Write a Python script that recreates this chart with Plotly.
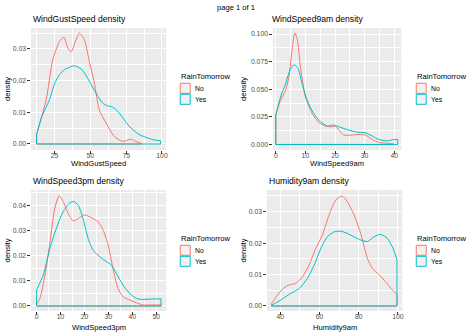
import plotly.graph_objects as go

# ---------------- data ----------------
groups = ["No", "Yes"]
variables = ["WindGustSpeed", "WindSpeed9am", "WindSpeed3pm", "Humidity9am"]

wgs_no_x = [12.5, 19.2, 23.8, 28.5, 31.5, 34.3, 36.6, 39.6, 42.4, 45.8, 49.3, 52.8, 56.2, 61, 66.7, 72.5, 78.2, 81.7, 86]
wgs_no_y = [0.003, 0.014, 0.0266, 0.0324, 0.0337, 0.0303, 0.029, 0.0324, 0.035, 0.033, 0.026, 0.0193, 0.0108, 0.0066, 0.0024, 0.0008, 0.0015, 0.0008, 0.0001]
wgs_yes_x = [12.5, 16, 21.5, 25, 28.5, 32, 35.4, 38.9, 43.5, 46.5, 49.3, 53.9, 58.6, 62, 65.5, 70.1, 77.1, 84, 93.3, 99]
wgs_yes_y = [0.003, 0.0085, 0.014, 0.019, 0.0219, 0.0235, 0.0242, 0.0247, 0.0237, 0.022, 0.0198, 0.0161, 0.0129, 0.012, 0.0117, 0.0098, 0.0056, 0.003, 0.0014, 0.001]

ws9_no_x = [0, 1.6, 3.3, 4.4, 5.5, 6.4, 7.2, 8.3, 10, 12.3, 14.5, 16.8, 19, 20.2, 21.3, 23, 25.2, 28, 30.3, 32.6, 34.8, 38.2, 40]
ws9_no_y = [0.0267, 0.040, 0.049, 0.061, 0.086, 0.101, 0.096, 0.0706, 0.043, 0.028, 0.020, 0.0167, 0.016, 0.0165, 0.013, 0.0085, 0.0085, 0.009, 0.0085, 0.0045, 0.0018, 0.001, 0.0003]
ws9_yes_x = [0, 1.6, 3.3, 4.4, 5.5, 6.4, 7.5, 8.9, 10.6, 12.8, 15.1, 17.4, 19.6, 21.3, 24.7, 28, 30.3, 32.6, 34.8, 37.6, 39.9, 41.2]
ws9_yes_y = [0.027, 0.043, 0.055, 0.0645, 0.0706, 0.072, 0.069, 0.055, 0.040, 0.028, 0.0206, 0.0167, 0.0176, 0.016, 0.013, 0.011, 0.0106, 0.0076, 0.0045, 0.0033, 0.0045, 0.0045]

ws3_no_x = [0, 1.4, 3.5, 5.6, 7.6, 9.4, 11.1, 13.2, 15.3, 17.4, 20.1, 22.9, 25.7, 27.8, 29.9, 31.9, 34, 36.1, 38.9, 41.7, 44.4, 48.6, 52]
ws3_no_y = [0.0007, 0.003, 0.0123, 0.0256, 0.0388, 0.0438, 0.0415, 0.0368, 0.0338, 0.0348, 0.0362, 0.0351, 0.0335, 0.0302, 0.0242, 0.015, 0.007, 0.0037, 0.0024, 0.0013, 0.0004, 0.0004, 0.0004]
ws3_yes_x = [0, 2.8, 5.6, 8.3, 11.1, 13.9, 15.6, 17.4, 19.4, 21.5, 23.6, 26.4, 29.2, 31.2, 33.3, 36.1, 38.9, 41.7, 44.4, 48.6, 52]
ws3_yes_y = [0.0064, 0.0123, 0.023, 0.031, 0.0375, 0.041, 0.0415, 0.040, 0.0348, 0.0269, 0.0222, 0.0196, 0.0176, 0.0163, 0.013, 0.0083, 0.005, 0.003, 0.0026, 0.0028, 0.0028]

hum_no_x = [35.6, 38.6, 42, 44.6, 48, 51.4, 54.7, 58.1, 61.5, 64.9, 68.3, 71.4, 74.2, 77.6, 81, 84.4, 86.9, 90.3, 93.7, 97.1, 99.5]
hum_no_y = [0.0008, 0.0035, 0.0058, 0.0067, 0.0072, 0.0093, 0.013, 0.0183, 0.0226, 0.029, 0.0337, 0.035, 0.0332, 0.029, 0.0231, 0.0152, 0.012, 0.010, 0.0077, 0.0051, 0.0037]
hum_yes_x = [35.6, 39.5, 44.6, 49.7, 53.9, 57.3, 60.7, 64, 67.5, 70.8, 74.2, 77.6, 81, 84.4, 87.8, 91.2, 94.6, 97.5, 99.5]
hum_yes_y = [0.0003, 0.0016, 0.0037, 0.0056, 0.0088, 0.013, 0.0183, 0.022, 0.0236, 0.0238, 0.0231, 0.022, 0.021, 0.0205, 0.022, 0.0228, 0.0215, 0.0183, 0.0146]

x_tick_step = [25, 10, 10, 20]
y_tick_step = [0.01, 0.025, 0.01, 0.01]
y_tick_format = [".2f", ".3f", ".2f", ".2f"]

# ---------------- layout helpers ----------------
W, H = 474, 335
FONT = "Arial, Liberation Sans, sans-serif"
COLORS = {"No": "#F8766D", "Yes": "#00BFC4"}

def px(x):
    return x / W

def py(y):
    return 1 - y / H

series = [
    ((wgs_no_x, wgs_no_y), (wgs_yes_x, wgs_yes_y)),
    ((ws9_no_x, ws9_no_y), (ws9_yes_x, ws9_yes_y)),
    ((ws3_no_x, ws3_no_y), (ws3_yes_x, ws3_yes_y)),
    ((hum_no_x, hum_no_y), (hum_yes_x, hum_yes_y)),
]

# panel boxes in pixels: (left, right, top, bottom)
boxes = [(31, 167, 28, 150), (274, 403, 28, 150), (31, 167, 190, 311), (268, 404, 190, 311)]
xranges = [[8.5, 103], [-1.0, 42.4], [-2.4, 54.2], [33.2, 102.2]]
yranges = [[-0.0019, 0.0366], [-0.005, 0.1055], [-0.002, 0.0461], [-0.0016, 0.0369]]
title_pos = [(31, 19), (271, 19), (31, 181), (268, 181)]
xtitle_y = [163.5, 163.5, 327, 327]
ytitle_x = [8, 245, 8, 245]
legend_pos = [(180, 76), (417, 76), (180, 238), (417, 238)]

fig = go.Figure()
layout = dict(
    width=W, height=H,
    margin=dict(l=0, r=0, t=0, b=0),
    paper_bgcolor="white",
    plot_bgcolor="#EBEBEB",
    showlegend=False,
    font=dict(family=FONT, size=7, color="black"),
)
annotations = []
shapes = []

for i in range(4):
    sfx = "" if i == 0 else str(i + 1)
    xa, ya = "x" + sfx, "y" + sfx
    for g, (xs, ys) in zip(groups, series[i]):
        c = COLORS[g]
        # closing edges of the density polygon (right edge, baseline, left edge)
        fig.add_trace(go.Scatter(
            x=[xs[-1], xs[-1], xs[0], xs[0]], y=[ys[-1], 0, 0, ys[0]],
            mode="lines", line=dict(color=c, width=1), xaxis=xa, yaxis=ya,
            hoverinfo="skip", name=g))
        fig.add_trace(go.Scatter(
            x=xs, y=ys, mode="lines",
            line=dict(color=c, width=1, shape="spline", smoothing=0.6),
            xaxis=xa, yaxis=ya, name=g))
    l, r, t, b = boxes[i]
    axis_common = dict(
        showgrid=True, gridcolor="white", gridwidth=1,
        zeroline=False, showline=False,
        ticks="outside", ticklen=2.5, tickwidth=1, tickcolor="#333333",
        tickfont=dict(family=FONT, size=6.8, color="#4D4D4D"),
        fixedrange=True,
    )
    layout["xaxis" + sfx] = dict(
        axis_common, domain=[px(l), px(r)], range=xranges[i], anchor=ya,
        tick0=0, dtick=x_tick_step[i], ticklabelstandoff=-4,
        minor=dict(tick0=0, dtick=x_tick_step[i] / 2, showgrid=True,
                   gridcolor="white", gridwidth=0.5),
    )
    layout["yaxis" + sfx] = dict(
        axis_common, domain=[py(b), py(t)], range=yranges[i], anchor=xa,
        tick0=0, dtick=y_tick_step[i], tickformat=y_tick_format[i],
        minor=dict(tick0=0, dtick=y_tick_step[i] / 2, showgrid=True,
                   gridcolor="white", gridwidth=0.5),
    )
    # panel title
    tx, ty = title_pos[i]
    annotations.append(dict(text=variables[i] + " density", x=px(tx), y=py(ty),
                            xref="paper", yref="paper", xanchor="left", yanchor="middle",
                            showarrow=False, font=dict(size=8.6, color="black")))
    # axis titles
    annotations.append(dict(text=variables[i], x=px((l + r) / 2), y=py(xtitle_y[i]),
                            xref="paper", yref="paper", xanchor="center", yanchor="middle",
                            showarrow=False, font=dict(size=7.6, color="black")))
    annotations.append(dict(text="density", x=px(ytitle_x[i]), y=py((t + b) / 2),
                            xref="paper", yref="paper", xanchor="center", yanchor="middle",
                            textangle=-90, showarrow=False, font=dict(size=7.6, color="black")))
    # legend (ggplot-style)
    lx, ly = legend_pos[i]
    annotations.append(dict(text="RainTomorrow", x=px(lx), y=py(ly),
                            xref="paper", yref="paper", xanchor="left", yanchor="middle",
                            showarrow=False, font=dict(size=7.6, color="black")))
    for k, g in enumerate(groups):
        k0 = ly + 7.3 + k * 11
        shapes.append(dict(type="rect", xref="paper", yref="paper",
                           x0=px(lx + 1), x1=px(lx + 11), y0=py(k0), y1=py(k0 + 10),
                           fillcolor="#F2F2F2", line=dict(color=COLORS[g], width=1)))
        annotations.append(dict(text=g, x=px(lx + 14), y=py(k0 + 5),
                                xref="paper", yref="paper", xanchor="left", yanchor="middle",
                                showarrow=False, font=dict(size=6.8, color="black")))

annotations.append(dict(text="page 1 of 1", x=px(237), y=py(7.5), xref="paper", yref="paper",
                        xanchor="center", yanchor="middle", showarrow=False,
                        font=dict(size=7.6, color="black")))

layout["annotations"] = annotations
layout["shapes"] = shapes
fig.update_layout(**layout)
fig.write_html("out.html")
